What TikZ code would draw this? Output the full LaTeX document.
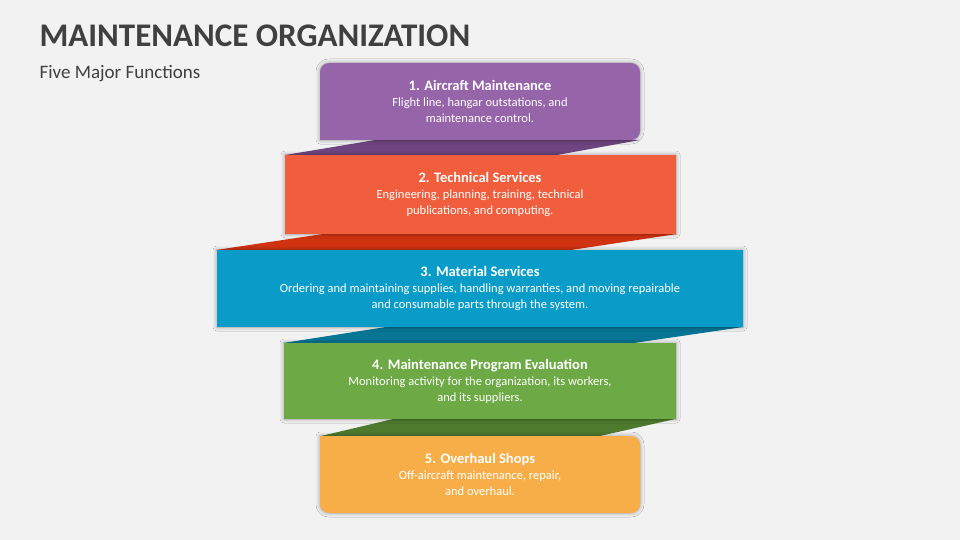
\documentclass[tikz,border=0pt]{standalone}
\usepackage{fontspec}
\setmainfont{Carlito}
\usetikzlibrary{shadows.blur}
\definecolor{bg}{HTML}{F2F2F2}
\definecolor{tt}{HTML}{404040}
\definecolor{cA}{HTML}{9664A8}\definecolor{dA}{HTML}{6E4580}
\definecolor{cB}{HTML}{F05E3D}\definecolor{dB}{HTML}{CF3311}
\definecolor{cC}{HTML}{0A9CC9}\definecolor{dC}{HTML}{077594}
\definecolor{cD}{HTML}{6DA944}\definecolor{dD}{HTML}{4E7A2E}
\definecolor{cE}{HTML}{F8AE48}
\begin{document}
\begin{tikzpicture}[x=1pt,y=-1pt,
  boxsh/.style={blur shadow={shadow xshift=0pt,shadow yshift=0pt,shadow blur steps=6,shadow blur radius=4pt,shadow opacity=35}},
  lbl/.style={text=white,align=center,font=\fontsize{12.5}{16}\selectfont}]
\fill[bg] (0,0) rectangle (960,540);
\useasboundingbox (0,0) rectangle (960,540);
\node[anchor=west,text=tt,font=\fontsize{33}{36}\selectfont\bfseries] (title) at (36,36) {MAINTENANCE ORGANIZATION};
\node[anchor=west,text=tt,font=\fontsize{19}{22}\selectfont] (sub) at (36,74) {Five Major Functions};
% bands
\fill[dA] (375,140) -- (640,140) -- (557,155) -- (285,155) -- cycle;
\fill[dB] (323,234) -- (677,234) -- (571,250) -- (216,250) -- cycle;
\fill[dC] (386,327) -- (743,327) -- (634,343) -- (283,343) -- cycle;
\fill[dD] (393,419) -- (675,419) -- (600,436) -- (321,436) -- cycle;
% boxes
\fill[cA,boxsh,rounded corners=9pt] (320,140) -- (320,63) -- (640,63) -- (640,140) [sharp corners] -- cycle;
\fill[cB,boxsh] (285,155) rectangle (676,234);
\fill[cC,boxsh] (217,250) rectangle (743,327);
\fill[cD,boxsh] (284,343) rectangle (676,419);
\fill[cE,boxsh,rounded corners=9pt] (320,436) -- (320,513) -- (640,513) -- (640,436) [sharp corners] -- cycle;
% texts
\node[lbl] (t1) at (480,101) {\textbf{\fontsize{14.5}{18}\selectfont 1. Aircraft Maintenance}\\Flight line, hangar outstations, and\\maintenance control.};
\node[lbl] (t2) at (480,194) {\textbf{\fontsize{14.5}{18}\selectfont 2. Technical Services}\\Engineering, planning, training, technical\\publications, and computing.};
\node[lbl] (t3) at (480,288) {\textbf{\fontsize{14.5}{18}\selectfont 3. Material Services}\\Ordering and maintaining supplies, handling warranties, and moving repairable\\and consumable parts through the system.};
\node[lbl] (t4) at (480,381) {\textbf{\fontsize{14.5}{18}\selectfont 4. Maintenance Program Evaluation}\\Monitoring activity for the organization, its workers,\\and its suppliers.};
\node[lbl] (t5) at (480,474) {\textbf{\fontsize{14.5}{18}\selectfont 5. Overhaul Shops}\\Off-aircraft maintenance, repair,\\and overhaul.};
\end{tikzpicture}
\end{document}
